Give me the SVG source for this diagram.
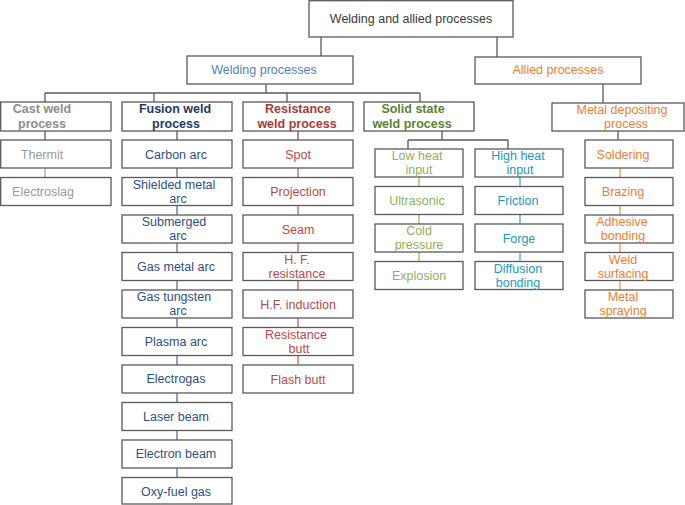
<svg xmlns="http://www.w3.org/2000/svg" width="685" height="505" viewBox="0 0 685 505">
<style>
rect{fill:#fff;stroke:#595959;stroke-width:1.3}
text{font-family:"Liberation Sans",Arial,sans-serif;font-size:12.5px;text-anchor:middle}
.b{font-weight:bold}
.k{fill:#3a3a3a}
.wp{fill:#4f7fc0}
.or{fill:#ed7d31}
.gy{fill:#8c8c8c}
.gy2{fill:#9a9a9a}
.nv{fill:#1f3864}
.bl{fill:#2f4f80}
.rd{fill:#a83a3a}
.rd2{fill:#b84a4a}
.gn{fill:#5e8232}
.lg{fill:#8db25a}
.tl{fill:#2199b8}
#conn line{stroke:#595959;stroke-width:1.3}
#conn .cg{stroke:#a6a6a6}
#conn .cb{stroke:#4a72b0}
#conn .cr{stroke:#d05a58}
#conn .cl{stroke:#9bbb59}
#conn .ct{stroke:#4bacc6}
#conn .co{stroke:#f79646}
</style>
<g id="conn">
<line x1="321" y1="37" x2="321" y2="56"/>
<line x1="497" y1="37" x2="497" y2="57"/>
<line x1="266" y1="84" x2="266" y2="93"/>
<line x1="45" y1="93" x2="420" y2="93"/>
<line x1="45" y1="93" x2="45" y2="102"/>
<line x1="154" y1="93" x2="154" y2="102"/>
<line x1="287" y1="93" x2="287" y2="102"/>
<line x1="420" y1="93" x2="420" y2="102"/>
<line x1="603" y1="84" x2="603" y2="103"/>
<line x1="45" y1="131" x2="45" y2="140"/>
<line class="cg" x1="45" y1="168" x2="45" y2="177"/>
<line x1="177" y1="131" x2="177" y2="140"/>
<line class="cb" x1="177" y1="168" x2="177" y2="477"/>
<line x1="298" y1="131" x2="298" y2="140"/>
<line class="cr" x1="298" y1="168" x2="298" y2="364"/>
<line x1="442" y1="131" x2="442" y2="140"/>
<line x1="408" y1="140" x2="508" y2="140"/>
<line x1="408" y1="140" x2="408" y2="149"/>
<line x1="508" y1="140" x2="508" y2="149"/>
<line class="cl" x1="419" y1="177" x2="419" y2="262"/>
<line class="ct" x1="520" y1="177" x2="520" y2="262"/>
<line x1="618" y1="131" x2="618" y2="140"/>
<line class="co" x1="620" y1="168" x2="620" y2="290"/>
</g>
<g id="root"><rect x="309" y="0.7" width="204" height="36.3"/><text class="k" x="411" y="23">Welding and allied processes</text></g>
<g id="welding"><rect x="187" y="56" width="166" height="28"/><text class="wp" x="264" y="74">Welding processes</text></g>
<g id="allied"><rect x="475" y="57" width="166" height="27"/><text class="or" x="558" y="74">Allied processes</text></g>
<g id="cast"><rect x="0.7" y="102" width="110.3" height="29"/><text class="b gy" x="42" y="113">Cast weld</text><text class="b gy" x="42" y="128">process</text></g>
<g id="thermit"><rect x="0.7" y="140" width="110.3" height="28"/><text class="gy2" x="42" y="158.5">Thermit</text></g>
<g id="electroslag"><rect x="0.7" y="177.5" width="110.3" height="28"/><text class="gy2" x="43" y="196">Electroslag</text></g>
<g id="fusion"><rect x="122" y="102" width="110" height="29"/><text class="b nv" x="175" y="113">Fusion weld</text><text class="b nv" x="176" y="128">process</text></g>
<g id="carbon"><rect x="122" y="140" width="110" height="28"/><text class="bl" x="176" y="158.5">Carbon arc</text></g>
<g id="shielded"><rect x="122" y="177.5" width="110" height="28"/><text class="bl" x="174" y="188.5">Shielded metal</text><text class="bl" x="178" y="202.5">arc</text></g>
<g id="submerged"><rect x="122" y="215" width="110" height="28"/><text class="bl" x="174" y="226">Submerged</text><text class="bl" x="178" y="240">arc</text></g>
<g id="gasmetal"><rect x="122" y="252.5" width="110" height="28"/><text class="bl" x="176" y="271">Gas metal arc</text></g>
<g id="gastungsten"><rect x="122" y="290" width="110" height="28"/><text class="bl" x="174" y="301">Gas tungsten</text><text class="bl" x="178" y="315">arc</text></g>
<g id="plasma"><rect x="122" y="327.5" width="110" height="28"/><text class="bl" x="176" y="345.5">Plasma arc</text></g>
<g id="electrogas"><rect x="122" y="365" width="110" height="28"/><text class="bl" x="176" y="383">Electrogas</text></g>
<g id="laser"><rect x="122" y="402.5" width="110" height="28"/><text class="bl" x="176" y="420.5">Laser beam</text></g>
<g id="electron"><rect x="122" y="440" width="110" height="28"/><text class="bl" x="176" y="458">Electron beam</text></g>
<g id="oxyfuel"><rect x="122" y="477.5" width="110" height="26.5"/><text class="bl" x="176" y="495.5">Oxy-fuel gas</text></g>
<g id="resistance"><rect x="243" y="102" width="110" height="29"/><text class="b rd" x="298" y="113">Resistance</text><text class="b rd" x="297" y="128">weld process</text></g>
<g id="spot"><rect x="243" y="140" width="110" height="28"/><text class="rd2" x="298" y="158.5">Spot</text></g>
<g id="projection"><rect x="243" y="177.5" width="110" height="28"/><text class="rd2" x="298" y="196">Projection</text></g>
<g id="seam"><rect x="243" y="215" width="110" height="28"/><text class="rd2" x="298" y="233.5">Seam</text></g>
<g id="hfres"><rect x="243" y="252.5" width="110" height="28"/><text class="rd2" x="297" y="263.5">H. F.</text><text class="rd2" x="297" y="277.5">resistance</text></g>
<g id="hfind"><rect x="243" y="290" width="110" height="28"/><text class="rd2" x="298" y="308.5">H.F. induction</text></g>
<g id="resbutt"><rect x="243" y="327.5" width="110" height="28"/><text class="rd2" x="296" y="338.5">Resistance</text><text class="rd2" x="299" y="352.5">butt</text></g>
<g id="flash"><rect x="243" y="365" width="110" height="28"/><text class="rd2" x="298" y="383.5">Flash butt</text></g>
<g id="solid"><rect x="364" y="102" width="110" height="29"/><text class="b gn" x="413" y="113">Solid state</text><text class="b gn" x="412" y="128">weld process</text></g>
<g id="lowheat"><rect x="375" y="149" width="88" height="28"/><text class="lg" x="417" y="160">Low heat</text><text class="lg" x="419" y="174">input</text></g>
<g id="ultrasonic"><rect x="375" y="186.5" width="88" height="28"/><text class="lg" x="417" y="205">Ultrasonic</text></g>
<g id="cold"><rect x="375" y="224" width="88" height="28"/><text class="lg" x="419" y="235">Cold</text><text class="lg" x="419" y="249">pressure</text></g>
<g id="explosion"><rect x="375" y="261.5" width="88" height="28"/><text class="lg" x="419" y="280">Explosion</text></g>
<g id="highheat"><rect x="475" y="149" width="88" height="28"/><text class="tl" x="518" y="160">High heat</text><text class="tl" x="520" y="174">input</text></g>
<g id="friction"><rect x="475" y="186.5" width="88" height="28"/><text class="tl" x="518" y="205">Friction</text></g>
<g id="forge"><rect x="475" y="224" width="88" height="28"/><text class="tl" x="519" y="242.5">Forge</text></g>
<g id="diffusion"><rect x="475" y="261.5" width="88" height="28"/><text class="tl" x="518" y="272.5">Diffusion</text><text class="tl" x="518" y="286.5">bonding</text></g>
<g id="metaldep"><rect x="552" y="103" width="132" height="28"/><text class="or" x="622" y="113.5">Metal depositing</text><text class="or" x="626" y="128">process</text></g>
<g id="soldering"><rect x="585" y="140" width="88" height="28"/><text class="or" x="623" y="158.5">Soldering</text></g>
<g id="brazing"><rect x="585" y="177.5" width="88" height="28"/><text class="or" x="623" y="196">Brazing</text></g>
<g id="adhesive"><rect x="585" y="215" width="88" height="28"/><text class="or" x="622" y="226">Adhesive</text><text class="or" x="623" y="240">bonding</text></g>
<g id="surfacing"><rect x="585" y="252.5" width="88" height="28"/><text class="or" x="623" y="263.5">Weld</text><text class="or" x="623" y="277.5">surfacing</text></g>
<g id="spraying"><rect x="585" y="290" width="88" height="28"/><text class="or" x="623" y="301">Metal</text><text class="or" x="623" y="315">spraying</text></g>
</svg>
